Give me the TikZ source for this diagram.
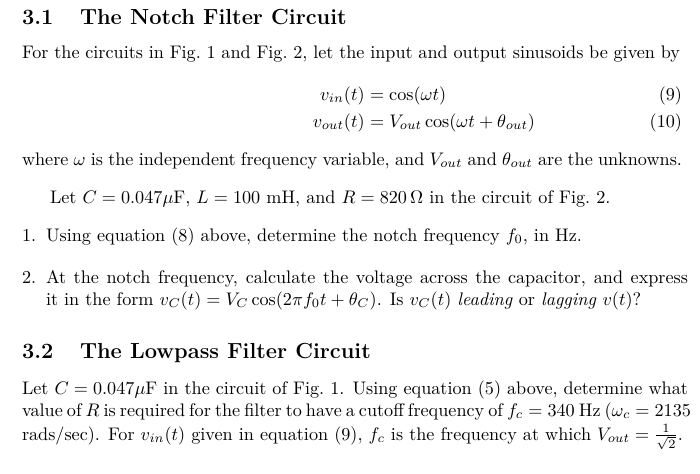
\documentclass[tikz,border=0pt]{standalone}
\usepackage{amsmath}
\newcommand{\jl}[2]{\makebox[#1][s]{#2}}
\begin{document}
\begin{tikzpicture}[x=0.55pt,y=-0.55pt,
  tx/.style={anchor=base west,inner sep=0pt,outer sep=0pt},
  tr/.style={anchor=base east,inner sep=0pt,outer sep=0pt}]
\useasboundingbox (0,0) rectangle (700,473);
\node[tx] (h1n) at (22,24) {\large\bfseries 3.1};
\node[tx] (h1) at (80,24) {\large\bfseries The Notch Filter Circuit};
\node[tx] (p1) at (22,58) {\jl{361.9pt}{For the circuits in Fig.~1 and Fig.~2, let the input and output sinusoids be given by}};
\node[anchor=base east,inner sep=0pt] (e9) at (365,100) {$v_{in}(t)$};
\node[tx] (e9r) at (365,100) {$\;=\cos(\omega t)$};
\node[anchor=base east,inner sep=0pt] (e10) at (365,127) {$v_{out}(t)$};
\node[tx] (e10r) at (365,127) {$\;=V_{out}\cos(\omega t+\theta_{out})$};
\node[tr] (n9) at (682,100) {(9)};
\node[tr] (n10) at (682,127) {(10)};
\node[tx] (p2) at (22,165) {\jl{363pt}{where $\omega$ is the independent frequency variable, and $V_{out}$ and $\theta_{out}$ are the unknowns.}};
\node[tx] (p3) at (50,203) {Let $C=0.047\mu$F, $L=100$ mH, and $R=820\,\Omega$ in the circuit of Fig.~2.};
\node[tx] (i1n) at (22,241) {1.};
\node[tx] (i1) at (46,241) {Using equation (8) above, determine the notch frequency $f_0$, in Hz.};
\node[tx] (i2n) at (22,283) {2.};
\node[tx] (i2a) at (46,283) {\jl{353.1pt}{At the notch frequency, calculate the voltage across the capacitor, and express}};
\node[tx] (i2b) at (46,305) {it in the form $v_C(t)=V_C\cos(2\pi f_0t+\theta_C)$. Is $v_C(t)$ \emph{leading} or \emph{lagging} $v(t)$?};
\node[tx] (h2n) at (22,358) {\large\bfseries 3.2};
\node[tx] (h2) at (80,358) {\large\bfseries The Lowpass Filter Circuit};
\node[tx] (q1) at (22,394) {\jl{366.3pt}{Let $C=0.047\mu$F in the circuit of Fig.~1. Using equation (5) above, determine what}};
\node[tx] (q2) at (22,416) {\jl{366.3pt}{value of $R$ is required for the filter to have a cutoff frequency of $f_c=340$ Hz ($\omega_c=2135$}};
\node[tx] (q3) at (22,440) {rads/sec). For $v_{in}(t)$ given in equation (9), $f_c$ is the frequency at which $V_{out}=\frac{1}{\sqrt{2}}$.};
\end{tikzpicture}
\end{document}
